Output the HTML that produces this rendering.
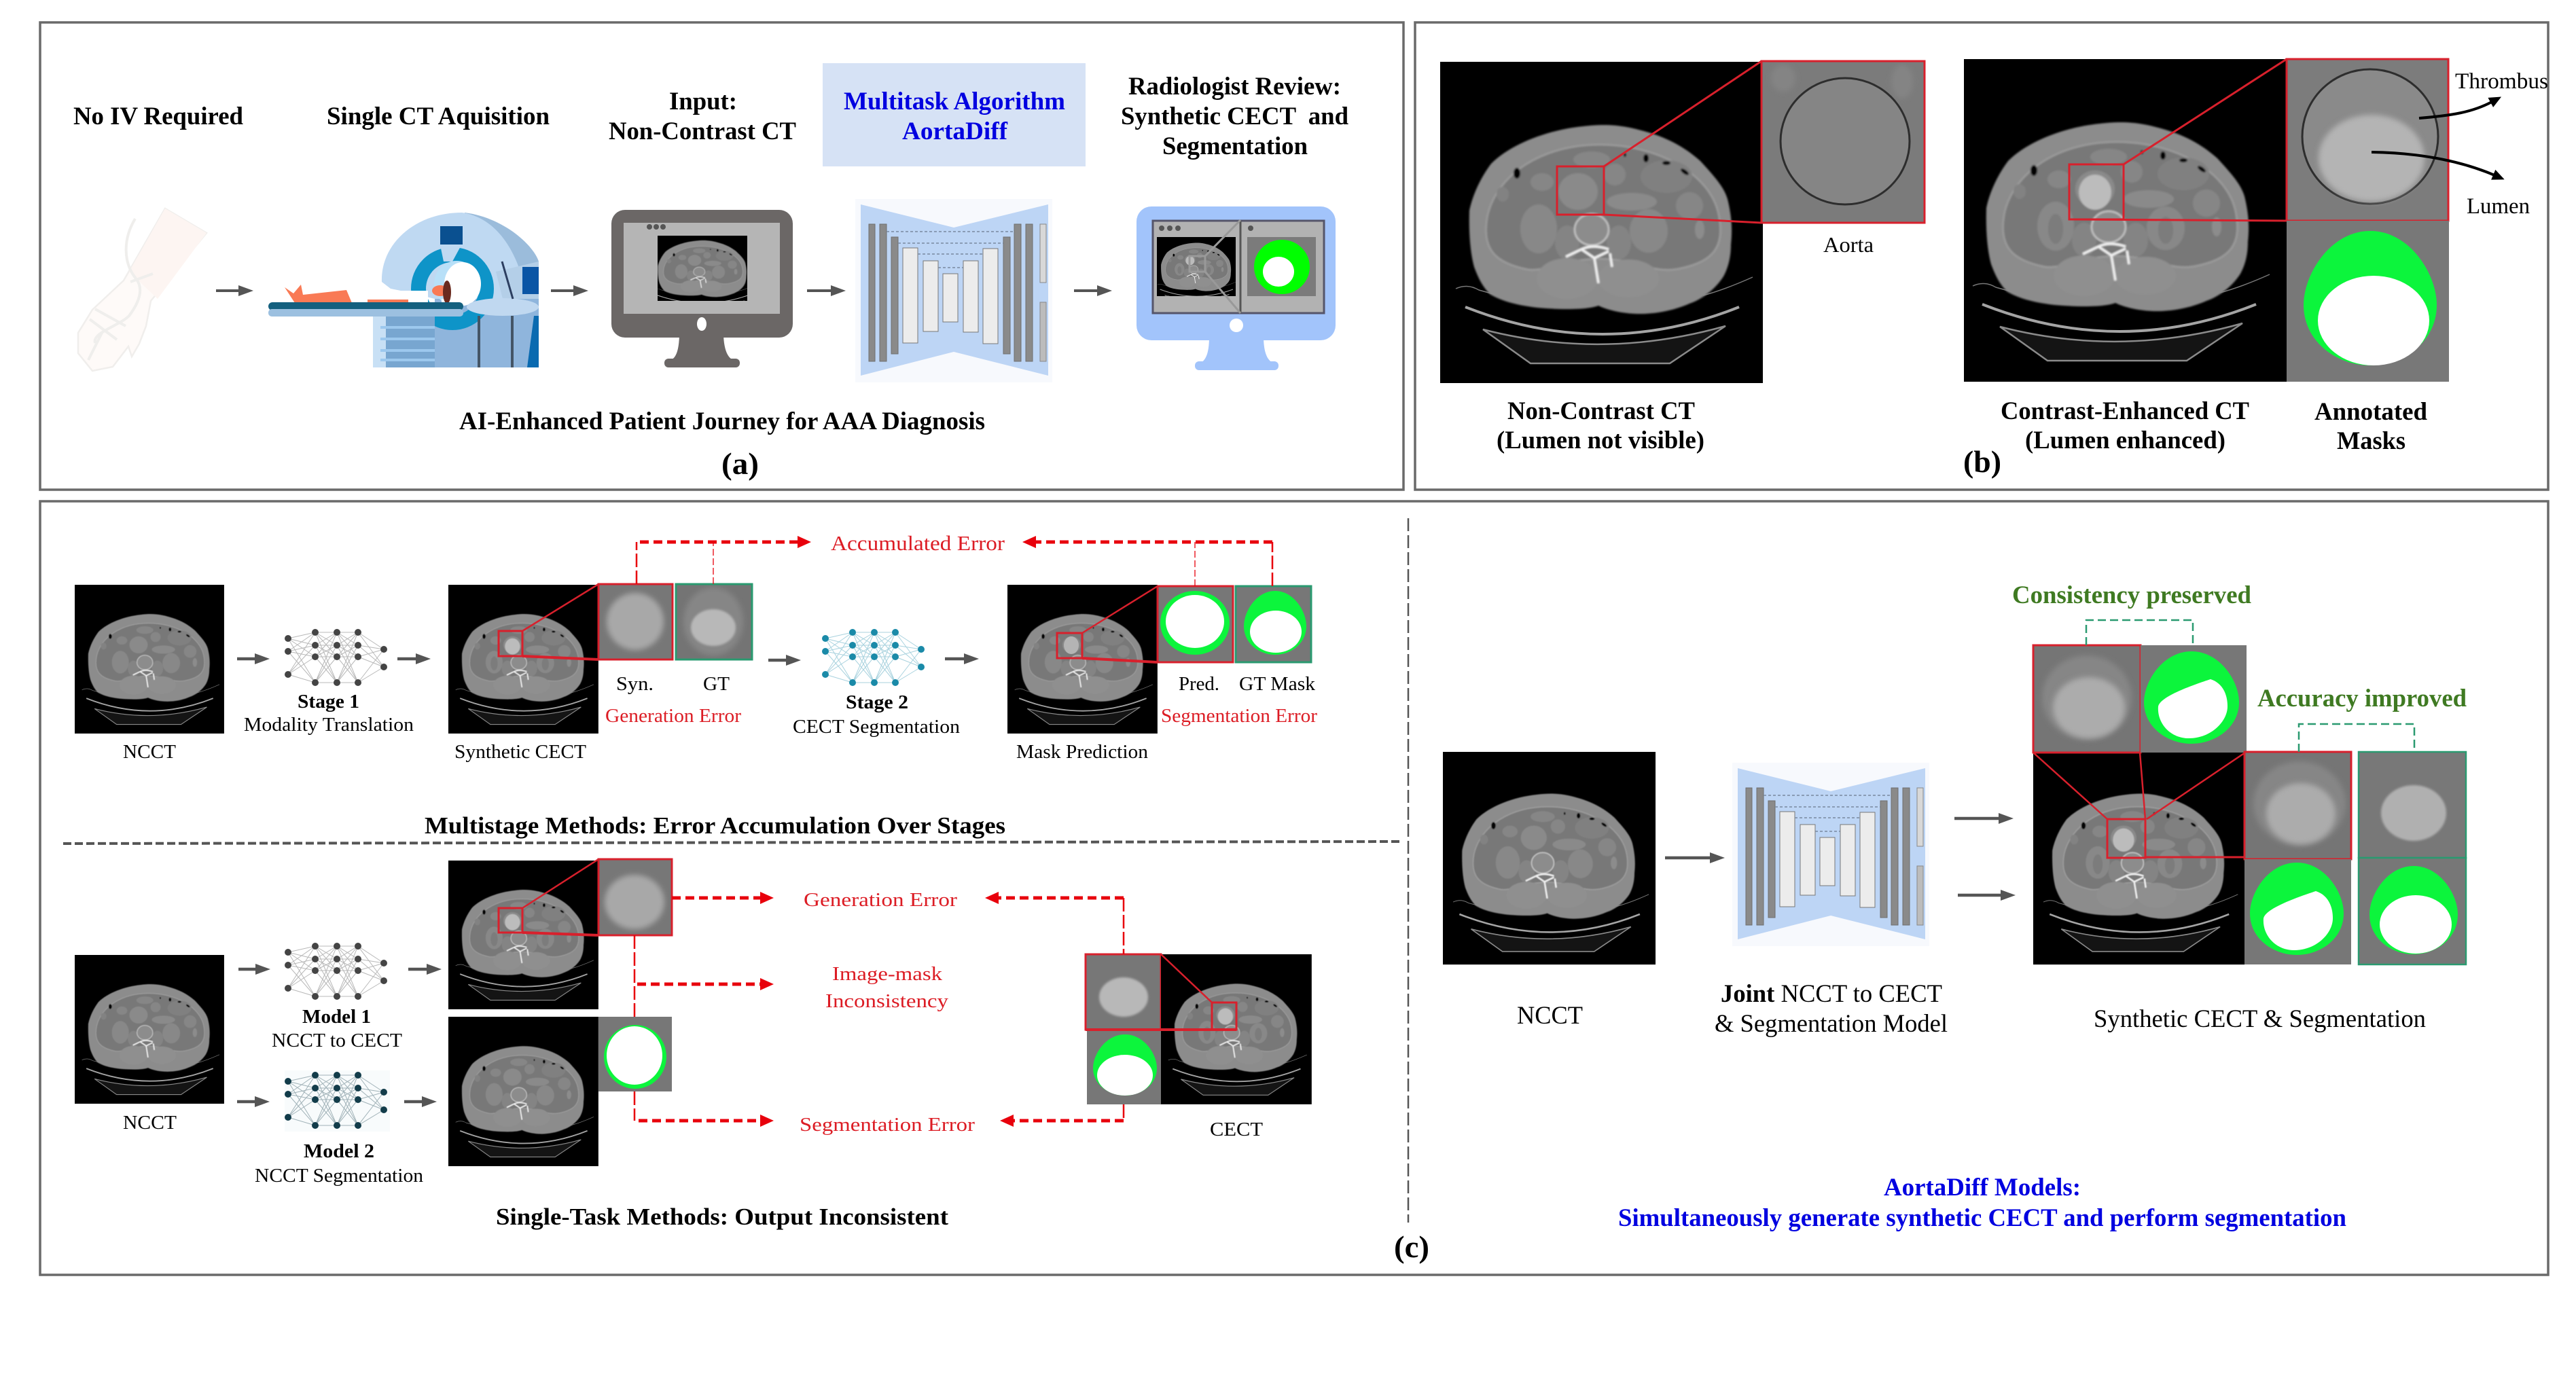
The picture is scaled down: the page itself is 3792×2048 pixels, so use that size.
<!DOCTYPE html>
<html><head><meta charset="utf-8"><style>
html,body{margin:0;padding:0;background:#fff}
svg{display:block}
text{font-family:"Liberation Serif",serif;fill:#000}
.h{font-weight:bold;font-size:37px}
.s{font-size:28px}
.sb{font-size:29px;font-weight:bold}
.r{fill:#dc1c24;font-size:29px}
.bl{fill:#0000e0;font-weight:bold;font-size:37px}
.gr{fill:#3f7a22;font-weight:bold;font-size:37px}
.hd{font-weight:bold;font-size:35px}
</style></head><body>
<svg xmlns="http://www.w3.org/2000/svg" width="3792" height="2048" viewBox="0 0 3792 2048">
<defs>
<filter id="b" x="-30%" y="-30%" width="160%" height="160%"><feGaussianBlur stdDeviation="4"/></filter>
<filter id="b2" x="-30%" y="-30%" width="160%" height="160%"><feGaussianBlur stdDeviation="1.5"/></filter>
<filter id="b3" x="-5%" y="-5%" width="110%" height="110%"><feGaussianBlur stdDeviation="1.4"/></filter>
<marker id="g" markerUnits="userSpaceOnUse" markerWidth="22" markerHeight="16" refX="0" refY="8" orient="auto"><path d="M0 0L22 8L0 16Z" fill="#555"/></marker>
<marker id="rd" markerUnits="userSpaceOnUse" markerWidth="20" markerHeight="18" refX="0" refY="9" orient="auto"><path d="M0 0L20 9L0 18Z" fill="#e8000c"/></marker>
<marker id="k" markerUnits="userSpaceOnUse" markerWidth="18" markerHeight="16" refX="2" refY="8" orient="auto"><path d="M0 0L18 8L0 16Z" fill="#000"/></marker>
<path id="egg" d="M0-100C60-100 100-35 100 10C100 65 50 100 0 100C-50 100-100 65-100 10C-100-35-60-100 0-100Z" fill="#0cf53c"/>
<path id="wht" d="M3177 1040C3180 1025 3230 1008 3254 1000C3270 1005 3279 1020 3279 1040C3279 1062 3255 1087 3222 1087C3195 1087 3175 1065 3177 1040Z" fill="#fff"/>
<g id="ct">
<rect width="475" height="473" fill="#000"/>
<path d="M63 394Q240 440 420 389L338 444L133 444Z" fill="#141414" stroke="#8a8a8a" stroke-width="2.5"/>
<path d="M37 361Q240 441 440 361" fill="none" stroke="#a4a4a4" stroke-width="4"/>
<path d="M23 334Q40 326 57 336L100 348M387 344Q420 335 460 317" fill="none" stroke="#777" stroke-width="1.5"/>
<g filter="url(#b3)">
<path d="M210 95C250 90 275 95 300 102C340 113 365 130 383 146C405 170 418 185 423 202C430 230 430 250 428 269C428 290 423 305 417 316C405 335 385 350 367 356C340 368 310 372 287 371C265 370 245 365 233 359C220 364 190 366 143 362C110 358 90 352 73 342C60 328 55 315 50 302C44 280 42 250 43 219C48 195 60 170 75 150C105 120 160 100 210 95Z" fill="#8c8c8c"/>
<path d="M235 122C320 122 398 165 410 225C420 275 400 295 350 305C310 312 290 290 235 290C180 290 150 312 125 305C80 295 60 275 70 225C85 165 150 122 235 122Z" fill="#787878" stroke="#9c9c9c" stroke-width="2.5"/>
<ellipse cx="203" cy="191" rx="29" ry="27" fill="#8a8a8a"/>
<ellipse cx="223" cy="144" rx="27" ry="12" fill="#868686"/><ellipse cx="257" cy="166" rx="16" ry="16" fill="#868686"/>
<ellipse cx="150" cy="177" rx="17" ry="13" fill="#868686"/><ellipse cx="282" cy="206" rx="37" ry="13" fill="#8a8a8a"/>
<ellipse cx="145" cy="246" rx="27" ry="36" fill="#888"/><ellipse cx="307" cy="249" rx="28" ry="32" fill="#888"/>
<ellipse cx="333" cy="169" rx="38" ry="24" fill="#808080"/><ellipse cx="367" cy="212" rx="20" ry="20" fill="#868686"/>
<ellipse cx="382" cy="247" rx="7" ry="14" fill="#8c8c8c"/><ellipse cx="92" cy="195" rx="9" ry="11" fill="#828282"/>
<ellipse cx="187" cy="266" rx="18" ry="25" fill="#848484"/><ellipse cx="263" cy="266" rx="18" ry="25" fill="#848484"/>
<ellipse cx="187" cy="319" rx="45" ry="30" fill="#8f8f8f"/><ellipse cx="277" cy="319" rx="45" ry="28" fill="#8f8f8f"/>
<ellipse cx="223" cy="247" rx="25" ry="23" fill="#8c8c8c" stroke="#c4c4c4" stroke-width="2.5"/>
<path d="M185 287L208 276L227 289L248 279M227 289L233 326M250 282L253 302M208 276Q225 268 248 276" fill="none" stroke="#f2f2f2" stroke-width="3.5"/>
<ellipse cx="113" cy="164" rx="5" ry="8" fill="#000"/><ellipse cx="303" cy="142" rx="4" ry="6" fill="#000"/><ellipse cx="333" cy="149" rx="6" ry="3" fill="#000"/><ellipse cx="360" cy="162" rx="7" ry="3" fill="#000" transform="rotate(35 360 162)"/><ellipse cx="272" cy="137" rx="2" ry="3" fill="#000"/>
</g>
</g>
<g id="cte"><use href="#ct"/>
<ellipse cx="145" cy="250" rx="11" ry="22" fill="#7c7c7c" filter="url(#b3)"/><ellipse cx="307" cy="252" rx="11" ry="20" fill="#7c7c7c" filter="url(#b3)"/>
<ellipse cx="203" cy="196" rx="24" ry="26" fill="#bcbcbc" filter="url(#b3)"/></g>
<g id="unet">
<rect width="290" height="270" fill="#f7f9fd"/>
<path d="M8 8L145 42L284 8L284 260L145 225L8 260Z" fill="#bdd5f5"/>
<g fill="#8a8a8a" stroke="#6f6f6f"><rect x="20" y="37" width="9" height="202"/><rect x="36" y="37" width="10" height="202"/><rect x="53" y="56" width="10" height="172"/><rect x="218" y="56" width="10" height="172"/><rect x="234" y="37" width="10" height="202"/><rect x="251" y="37" width="10" height="202"/></g>
<g fill="#ececec" stroke="#777"><rect x="70" y="72" width="22" height="140"/><rect x="100" y="91" width="22" height="104"/><rect x="129" y="110" width="22" height="71"/><rect x="159" y="91" width="22" height="105"/><rect x="188" y="73" width="22" height="140"/></g>
<rect x="272" y="37" width="9" height="86" fill="#d8d8d8" stroke="#888"/><rect x="272" y="152" width="9" height="87" fill="#bcbcbc" stroke="#888"/>
<path d="M46 48H234M63 65H218M92 81H188M122 101H159" stroke="#7a8aa0" stroke-width="1.5" stroke-dasharray="4 3" fill="none"/>
</g>
<g id="net">
<path d="M3 12L43 3M3 12L43 22M3 12L43 39M3 12L43 77M3 31L43 3M3 31L43 22M3 31L43 39M3 31L43 77M3 65L43 3M3 65L43 22M3 65L43 39M3 65L43 77M43 3L75 3M43 3L75 22M43 3L75 39M43 3L75 77M43 22L75 3M43 22L75 22M43 22L75 39M43 22L75 77M43 39L75 3M43 39L75 22M43 39L75 39M43 39L75 77M43 77L75 3M43 77L75 22M43 77L75 39M43 77L75 77M75 3L106 3M75 3L106 22M75 3L106 39M75 3L106 77M75 22L106 3M75 22L106 22M75 22L106 39M75 22L106 77M75 39L106 3M75 39L106 22M75 39L106 39M75 39L106 77M75 77L106 3M75 77L106 22M75 77L106 39M75 77L106 77M106 3L144 28M106 22L144 28M106 39L144 28M106 77L144 28M106 3L144 54M106 22L144 54M106 39L144 54M106 77L144 54" fill="none" stroke="currentColor" stroke-width="1" opacity=".38"/>
<g fill="currentColor"><circle cx="3" cy="12" r="5"/><circle cx="3" cy="31" r="5"/><circle cx="3" cy="65" r="5"/><circle cx="43" cy="3" r="5"/><circle cx="43" cy="22" r="5"/><circle cx="43" cy="39" r="5"/><circle cx="43" cy="77" r="5"/><circle cx="75" cy="3" r="5"/><circle cx="75" cy="22" r="5"/><circle cx="75" cy="39" r="5"/><circle cx="75" cy="77" r="5"/><circle cx="106" cy="3" r="5"/><circle cx="106" cy="22" r="5"/><circle cx="106" cy="39" r="5"/><circle cx="106" cy="77" r="5"/><circle cx="144" cy="28" r="5"/><circle cx="144" cy="54" r="5"/></g>
</g>
</defs>
<rect width="3792" height="2048" fill="#fff"/>

<!-- panels -->
<g fill="none" stroke="#6a6a6a" stroke-width="3.5">
<rect x="59" y="33" width="2007" height="688"/>
<rect x="2083" y="33" width="1668" height="688"/>
<rect x="59" y="738" width="3692" height="1139"/>
</g>

<!-- PANEL A -->
<rect x="1211" y="93" width="387" height="152" fill="#d6e2f5"/>
<text class="h" x="108" y="183" textLength="250" lengthAdjust="spacingAndGlyphs">No IV Required</text>
<text class="h" x="481" y="183" textLength="328" lengthAdjust="spacingAndGlyphs">Single CT Aquisition</text>
<text class="h" x="985" y="161" textLength="100" lengthAdjust="spacingAndGlyphs">Input:</text>
<text class="h" x="896" y="205" textLength="276" lengthAdjust="spacingAndGlyphs">Non-Contrast CT</text>
<text class="bl" x="1242" y="161" textLength="326" lengthAdjust="spacingAndGlyphs">Multitask Algorithm</text>
<text class="bl" x="1328" y="205" textLength="155" lengthAdjust="spacingAndGlyphs">AortaDiff</text>
<text class="h" x="1661" y="139" textLength="313" lengthAdjust="spacingAndGlyphs">Radiologist Review:</text>
<text class="h" x="1650" y="183" textLength="335" lengthAdjust="spacingAndGlyphs" xml:space="preserve">Synthetic CECT  and</text>
<text class="h" x="1711" y="227" textLength="214" lengthAdjust="spacingAndGlyphs">Segmentation</text>
<text class="h" x="676" y="632" textLength="774" lengthAdjust="spacingAndGlyphs">AI-Enhanced Patient Journey for AAA Diagnosis</text>
<text x="1062" y="698" font-size="46" font-weight="bold" textLength="55" lengthAdjust="spacingAndGlyphs">(a)</text>

<!-- hand -->
<path d="M243 307L304 343L222 443L215 480L205 506L194 525L189 510L166 540L136 546L115 520L115 490L136 456L182 413Z" fill="#fefaf8" stroke="#f0eeec" stroke-width="2.5"/>
<path d="M243 307L304 343L232 440L190 400Z" fill="#fdf5f2"/>
<path d="M199 322C182 350 180 385 200 410C212 425 205 445 190 465C175 480 135 490 140 505M140 455L185 480M132 470L172 500M130 530L150 490M192 415L225 403" fill="none" stroke="#efeeec" stroke-width="4"/>

<!-- scanner -->
<path d="M684 313C740 320 785 360 793 385L793 470L700 470Z" fill="#9bbcdb"/>
<path d="M562 415C560 360 610 313 680 313C730 320 765 370 775 440L640 440L600 430L575 425Z" fill="#bfd9f2"/>
<rect x="640" y="440" width="153" height="101" fill="#8fb5dc"/>
<path d="M730 400L793 385V440H740Z" fill="#b4cfe8"/>
<rect x="648" y="333" width="33" height="27" fill="#0a5090"/>
<ellipse cx="666" cy="425" rx="50" ry="50" fill="none" stroke="#0e94c8" stroke-width="22"/>
<ellipse cx="672" cy="418" rx="33" ry="34" fill="#b8e0f8"/>
<ellipse cx="681" cy="418" rx="27" ry="32" fill="#fff"/>
<path d="M648 361H679L666 385H653Z" fill="#bfd9f2"/>
<rect x="650" y="440" width="40" height="8" fill="#fff"/>
<ellipse cx="740" cy="452" rx="53" ry="13" fill="#c0d8f0"/>
<path d="M739 385L755 440" stroke="#2c3e60" stroke-width="3"/>
<rect x="769" y="393" width="24" height="40" fill="#0a55a5"/>
<path d="M786 465L793 465L793 541L776 541Z" fill="#0a6ab0"/>
<path d="M705 465V541M754 465V541" stroke="#445566" stroke-width="4"/>
<rect x="549" y="466" width="91" height="75" fill="#c8e0f5"/>
<rect x="568" y="466" width="72" height="75" fill="#78a6d0"/>
<g fill="#9cc8ee"><rect x="560" y="480" width="80" height="4"/><rect x="560" y="497" width="80" height="4"/><rect x="560" y="514" width="80" height="4"/><rect x="560" y="528" width="80" height="4"/></g>
<path d="M419 423L432 432L443 419L446 434L510 427L518 446L434 446Z" fill="#f97a55"/>
<path d="M518 428L630 428L630 446L518 446Z" fill="#fff"/>
<rect x="541" y="441" width="60" height="6" fill="#f97a55"/>
<ellipse cx="648" cy="428" rx="12" ry="8" fill="#f97a55"/>
<ellipse cx="658" cy="430" rx="6" ry="17" fill="#6a2a1e"/>
<rect x="395" y="445" width="287" height="12" rx="6" fill="#14607f"/>
<rect x="395" y="455" width="287" height="11" rx="5" fill="#9cc0e0"/>

<!-- monitor 1 -->
<path d="M1000 490C1000 515 995 530 985 530L1082 530C1072 530 1065 515 1065 490Z" fill="#6b6766"/>
<rect x="978" y="528" width="111" height="13" rx="6" fill="#6b6766"/>
<rect x="900" y="309" width="267" height="188" rx="20" fill="#6b6766"/>
<rect x="918" y="328" width="230" height="134" fill="#b5b5b5"/>
<g fill="#555"><circle cx="956" cy="334" r="4"/><circle cx="966" cy="334" r="4"/><circle cx="976" cy="334" r="4"/></g>
<rect x="968" y="347" width="132" height="96" fill="#000"/>
<svg x="968" y="347" width="132" height="96" viewBox="42 70 390 320" preserveAspectRatio="none"><use href="#ct"/></svg>
<ellipse cx="1033" cy="477" rx="7" ry="10" fill="#fff"/>

<!-- unet a -->
<use href="#unet" transform="translate(1259,293)"/>

<!-- monitor 2 -->
<path d="M1780 495C1780 520 1775 532 1765 535L1876 535C1866 532 1860 520 1860 495Z" fill="#a2c4fb"/>
<rect x="1759" y="532" width="123" height="13" rx="6" fill="#a2c4fb"/>
<rect x="1673" y="304" width="293" height="197" rx="22" fill="#a2c4fb"/>
<rect x="1697" y="325" width="252" height="136" fill="#b2b2b2" stroke="#55556a" stroke-width="3"/>
<path d="M1826 325V461" stroke="#555" stroke-width="3"/>
<g fill="#555"><circle cx="1710" cy="336" r="4"/><circle cx="1722" cy="336" r="4"/><circle cx="1734" cy="336" r="4"/><circle cx="1841" cy="336" r="4"/></g>
<rect x="1703" y="349" width="116" height="87" fill="#000"/>
<svg x="1703" y="349" width="116" height="87" viewBox="20 60 435 340" preserveAspectRatio="none"><use href="#cte"/></svg>
<rect x="1836" y="349" width="101" height="87" fill="#7b7b7b"/>
<ellipse cx="1887" cy="393" rx="41" ry="40" fill="#0f0"/>
<ellipse cx="1882" cy="400" rx="23" ry="22" fill="#fff"/>
<rect x="1751" y="377" width="23" height="23" fill="none" stroke="#999" stroke-width="3"/>
<path d="M1774 377L1826 324M1774 400L1826 461" stroke="#999" stroke-width="3"/>
<ellipse cx="1820" cy="479" rx="10" ry="10" fill="#fff"/>

<!-- arrows a -->
<g stroke="#555" stroke-width="4" marker-end="url(#g)" fill="none">
<path d="M318 428H351"/><path d="M811 428H844"/><path d="M1188 428H1223"/><path d="M1581 428H1615"/>
</g>

<!-- PANEL B -->
<use href="#ct" transform="translate(2120,91)"/>
<rect x="2593" y="90" width="240" height="238" fill="#7b7b7b"/>
<ellipse cx="2625" cy="115" rx="18" ry="20" fill="#848484" filter="url(#b)"/><ellipse cx="2800" cy="120" rx="16" ry="25" fill="#848484" filter="url(#b)"/>
<ellipse cx="2716" cy="208" rx="95" ry="93" fill="#858585" stroke="#2d2d2d" stroke-width="3"/>
<rect x="2593" y="90" width="240" height="238" fill="none" stroke="#d8202c" stroke-width="3"/>
<rect x="2292" y="245" width="69" height="71" fill="none" stroke="#d8202c" stroke-width="3"/>
<path d="M2361 245L2593 90M2361 316L2593 328" stroke="#d8202c" stroke-width="3"/>
<text x="2684" y="371" style="font-size:32px" textLength="74" lengthAdjust="spacingAndGlyphs">Aorta</text>

<rect x="2891" y="87" width="475" height="475" fill="#000"/>
<svg x="2891" y="87" width="475" height="475" viewBox="10 0 475 475"><use href="#cte"/></svg>
<rect x="3366" y="87" width="238" height="238" fill="#7c7c7c"/>
<ellipse cx="3489" cy="201" rx="100" ry="99" fill="#8a8a8a" stroke="#2d2d2d" stroke-width="3"/>
<ellipse cx="3491" cy="233" rx="78" ry="64" fill="#b4b4b4" filter="url(#b)"/>
<rect x="3366" y="87" width="238" height="238" fill="none" stroke="#d8202c" stroke-width="3"/>
<rect x="3366" y="325" width="239" height="237" fill="#787878"/>
<use href="#egg" transform="translate(3489,439) scale(.98,.99)"/>
<ellipse cx="3494" cy="472" rx="82" ry="66" fill="#fff"/>
<rect x="3046" y="242" width="80" height="81" fill="none" stroke="#d8202c" stroke-width="3"/>
<path d="M3126 242L3366 87M3046 323L3366 325" stroke="#d8202c" stroke-width="3"/>
<path d="M3561 174C3610 170 3640 165 3668 150" fill="none" stroke="#000" stroke-width="4" marker-end="url(#k)"/>
<path d="M3491 224C3570 225 3630 240 3672 258" fill="none" stroke="#000" stroke-width="4" marker-end="url(#k)"/>
<text x="3614" y="130" style="font-size:33px" textLength="137" lengthAdjust="spacingAndGlyphs">Thrombus</text>
<text x="3631" y="314" style="font-size:33px" textLength="93" lengthAdjust="spacingAndGlyphs">Lumen</text>
<text class="h" x="2219" y="617" textLength="276" lengthAdjust="spacingAndGlyphs">Non-Contrast CT</text>
<text class="h" x="2203" y="660" textLength="306" lengthAdjust="spacingAndGlyphs">(Lumen not visible)</text>
<text class="h" x="2945" y="617" textLength="366" lengthAdjust="spacingAndGlyphs">Contrast-Enhanced CT</text>
<text class="h" x="2981" y="660" textLength="295" lengthAdjust="spacingAndGlyphs">(Lumen enhanced)</text>
<text class="h" x="3407" y="618" textLength="166" lengthAdjust="spacingAndGlyphs">Annotated</text>
<text class="h" x="3440" y="661" textLength="101" lengthAdjust="spacingAndGlyphs">Masks</text>
<text x="2890" y="695" font-size="46" font-weight="bold" textLength="56" lengthAdjust="spacingAndGlyphs">(b)</text>

<!-- PANEL C dashed dividers -->
<path d="M93 1242L2062 1239" stroke="#555" stroke-width="4" stroke-dasharray="12 5"/>
<path d="M2073 763V1800" stroke="#555" stroke-width="2.5" stroke-dasharray="19 6"/>

<!-- multistage row -->
<use href="#ct" transform="translate(110,861) scale(.463)"/>
<use href="#cte" transform="translate(660,861) scale(.465,.463)"/>
<use href="#ct" transform="translate(1483,861) scale(.465,.463)"/>
<ellipse cx="1577" cy="950" rx="11" ry="13" fill="#b4b4b4"/>
<use href="#net" transform="translate(421,928)" color="#444"/>
<use href="#net" transform="translate(1212,928)" color="#1a8aa8"/>

<rect x="881" y="860" width="109" height="111" fill="#777"/>
<ellipse cx="935" cy="915" rx="42" ry="42" fill="#a8a8a8" filter="url(#b)"/>
<rect x="881" y="860" width="109" height="111" fill="none" stroke="#d8202c" stroke-width="3"/>
<rect x="995" y="860" width="112" height="111" fill="#747474"/>
<ellipse cx="1050" cy="915" rx="44" ry="50" fill="#868686" filter="url(#b)"/>
<ellipse cx="1050" cy="924" rx="33" ry="27" fill="#b8b8b8" filter="url(#b2)"/>
<rect x="995" y="860" width="112" height="111" fill="none" stroke="#2a9a70" stroke-width="3"/>
<rect x="734" y="929" width="35" height="37" fill="none" stroke="#d8202c" stroke-width="3"/>
<path d="M769 929L881 860" stroke="#d8202c" stroke-width="2.5"/><path d="M769 966L881 971" stroke="#d8202c" stroke-width="4"/>

<rect x="1704" y="863" width="111" height="112" fill="#777"/>
<ellipse cx="1759" cy="917" rx="51" ry="47" fill="#0cf53c"/>
<ellipse cx="1759" cy="915" rx="43" ry="39" fill="#fff"/>
<rect x="1704" y="863" width="111" height="112" fill="none" stroke="#d8202c" stroke-width="3"/>
<rect x="1819" y="863" width="111" height="112" fill="#777"/>
<use href="#egg" transform="translate(1877,917) scale(.46,.47)"/>
<ellipse cx="1878" cy="930" rx="38" ry="31" fill="#fff"/>
<rect x="1819" y="863" width="111" height="112" fill="none" stroke="#2a9a70" stroke-width="3"/>
<rect x="1556" y="932" width="37" height="37" fill="none" stroke="#d8202c" stroke-width="3"/>
<path d="M1593 932L1704 863" stroke="#d8202c" stroke-width="2.5"/><path d="M1593 969L1704 975" stroke="#d8202c" stroke-width="4"/>

<g stroke="#555" stroke-width="4.5" marker-end="url(#g)" fill="none">
<path d="M349 970H375"/><path d="M585 970H612"/><path d="M1131 972H1157"/><path d="M1391 970H1419"/>
<path d="M351 1427H376"/><path d="M601 1427H628"/><path d="M349 1622H375"/><path d="M595 1622H621"/>
<path d="M2451 1263H2517"/><path d="M2877 1205H2942"/><path d="M2882 1318H2945"/>
</g>

<!-- accumulated error -->
<g fill="none" stroke="#e8000c">
<path d="M937 860V798" stroke-width="2.5" stroke-dasharray="20 5"/>
<path d="M1050 860V798" stroke-width="1.3" stroke-dasharray="10 4"/>
<path d="M942 798H1174" stroke-width="5" stroke-dasharray="13 7" marker-end="url(#rd)"/>
<path d="M1873 863V798" stroke-width="2.5" stroke-dasharray="20 5"/>
<path d="M1759 863V798" stroke-width="1.3" stroke-dasharray="10 4"/>
<path d="M1873 798H1525" stroke-width="5" stroke-dasharray="13 7" marker-end="url(#rd)"/>
</g>
<text class="r" x="1223" y="810" style="font-size:31px" textLength="256" lengthAdjust="spacingAndGlyphs">Accumulated Error</text>

<text class="s" x="181" y="1116" textLength="78" lengthAdjust="spacingAndGlyphs">NCCT</text>
<text class="sb" x="438" y="1042" textLength="91" lengthAdjust="spacingAndGlyphs">Stage 1</text>
<text class="s" x="359" y="1076" textLength="250" lengthAdjust="spacingAndGlyphs">Modality Translation</text>
<text class="s" x="669" y="1116" textLength="194" lengthAdjust="spacingAndGlyphs">Synthetic CECT</text>
<text class="s" x="907" y="1016" textLength="55" lengthAdjust="spacingAndGlyphs">Syn.</text>
<text class="s" x="1035" y="1016" textLength="39" lengthAdjust="spacingAndGlyphs">GT</text>
<text class="r" x="891" y="1063" textLength="200" lengthAdjust="spacingAndGlyphs">Generation Error</text>
<text class="sb" x="1245" y="1043" textLength="92" lengthAdjust="spacingAndGlyphs">Stage 2</text>
<text class="s" x="1167" y="1079" textLength="246" lengthAdjust="spacingAndGlyphs">CECT Segmentation</text>
<text class="s" x="1496" y="1116" textLength="194" lengthAdjust="spacingAndGlyphs">Mask Prediction</text>
<text class="s" x="1735" y="1016" textLength="60" lengthAdjust="spacingAndGlyphs">Pred.</text>
<text class="s" x="1824" y="1016" textLength="112" lengthAdjust="spacingAndGlyphs">GT Mask</text>
<text class="r" x="1709" y="1063" textLength="230" lengthAdjust="spacingAndGlyphs">Segmentation Error</text>
<text class="hd" x="625" y="1227" textLength="855" lengthAdjust="spacingAndGlyphs">Multistage Methods: Error Accumulation Over Stages</text>

<!-- single task row -->
<use href="#ct" transform="translate(110,1406) scale(.463)"/>
<use href="#net" transform="translate(421,1390)" color="#444"/>
<rect x="419" y="1576" width="155" height="90" fill="#f8fbfc"/>
<use href="#net" transform="translate(421,1580)" color="#123c4a"/>
<use href="#cte" transform="translate(660,1267) scale(.465,.463)"/>
<use href="#ct" transform="translate(660,1497) scale(.465)"/>

<rect x="881" y="1265" width="108" height="112" fill="#777"/>
<ellipse cx="934" cy="1328" rx="44" ry="40" fill="#a8a8a8" filter="url(#b)"/>
<rect x="881" y="1265" width="108" height="112" fill="none" stroke="#d8202c" stroke-width="3"/>
<rect x="734" y="1337" width="35" height="36" fill="none" stroke="#d8202c" stroke-width="3"/>
<path d="M769 1337L881 1265" stroke="#d8202c" stroke-width="2.5"/><path d="M769 1373L881 1377" stroke="#d8202c" stroke-width="4"/>
<rect x="881" y="1497" width="108" height="110" fill="#777"/>
<ellipse cx="935" cy="1556" rx="46" ry="47" fill="#0cf53c"/>
<ellipse cx="934" cy="1554" rx="41" ry="43" fill="#fff"/>

<rect x="1598" y="1405" width="111" height="111" fill="#777"/>
<ellipse cx="1654" cy="1468" rx="36" ry="29" fill="#b8b8b8" filter="url(#b2)"/>
<rect x="1598" y="1405" width="111" height="111" fill="none" stroke="#d8202c" stroke-width="3"/>
<rect x="1600" y="1516" width="109" height="110" fill="#777"/>
<use href="#egg" transform="translate(1656,1568) scale(.47,.45)"/>
<ellipse cx="1656" cy="1583" rx="41" ry="30" fill="#fff"/>
<use href="#cte" transform="translate(1709,1405) scale(.467,.467)"/>
<rect x="1784" y="1476" width="36" height="40" fill="none" stroke="#d8202c" stroke-width="3"/>
<path d="M1709 1405L1784 1476" stroke="#d8202c" stroke-width="2.5"/><path d="M1598 1516H1820" stroke="#d8202c" stroke-width="4"/>

<g fill="none" stroke="#e8000c">
<path d="M934 1377V1497M934 1607V1650" stroke-width="2.5" stroke-dasharray="20 5"/>
<path d="M1654 1322V1405M1654 1626V1650" stroke-width="2.5" stroke-dasharray="20 5"/>
<path d="M989 1322H1119" stroke-width="5" stroke-dasharray="13 7" marker-end="url(#rd)"/>
<path d="M938 1449H1119" stroke-width="5" stroke-dasharray="13 7" marker-end="url(#rd)"/>
<path d="M940 1650H1119" stroke-width="5" stroke-dasharray="13 7" marker-end="url(#rd)"/>
<path d="M1654 1322H1470" stroke-width="5" stroke-dasharray="13 7" marker-end="url(#rd)"/>
<path d="M1654 1650H1492" stroke-width="5" stroke-dasharray="13 7" marker-end="url(#rd)"/>
</g>
<text class="s" x="181" y="1662" textLength="79" lengthAdjust="spacingAndGlyphs">NCCT</text>
<text class="sb" x="445" y="1506" textLength="101" lengthAdjust="spacingAndGlyphs">Model 1</text>
<text class="s" x="400" y="1541" textLength="192" lengthAdjust="spacingAndGlyphs">NCCT to CECT</text>
<text class="sb" x="447" y="1704" textLength="104" lengthAdjust="spacingAndGlyphs">Model 2</text>
<text class="s" x="375" y="1740" textLength="248" lengthAdjust="spacingAndGlyphs">NCCT Segmentation</text>
<text class="r" x="1183" y="1334" textLength="226" lengthAdjust="spacingAndGlyphs">Generation Error</text>
<text class="r" x="1225" y="1443" textLength="162" lengthAdjust="spacingAndGlyphs">Image-mask</text>
<text class="r" x="1215" y="1483" textLength="181" lengthAdjust="spacingAndGlyphs">Inconsistency</text>
<text class="r" x="1177" y="1665" textLength="258" lengthAdjust="spacingAndGlyphs">Segmentation Error</text>
<text class="s" x="1781" y="1672" textLength="78" lengthAdjust="spacingAndGlyphs">CECT</text>
<text class="hd" x="730" y="1803" textLength="666" lengthAdjust="spacingAndGlyphs">Single-Task Methods: Output Inconsistent</text>
<text x="2052" y="1851" font-size="46" font-weight="bold" textLength="52" lengthAdjust="spacingAndGlyphs">(c)</text>

<!-- right side of C -->
<use href="#ct" transform="translate(2124,1107) scale(.659,.662)"/>
<use href="#unet" transform="translate(2550,1123)"/>
<use href="#cte" transform="translate(2993,1107) scale(.655,.662)"/>

<rect x="2993" y="950" width="158" height="158" fill="#757575"/>
<ellipse cx="3072" cy="1027" rx="66" ry="62" fill="#868686" filter="url(#b)"/>
<ellipse cx="3075" cy="1042" rx="53" ry="45" fill="#acacac" filter="url(#b)"/>
<rect x="2993" y="950" width="158" height="158" fill="none" stroke="#d8202c" stroke-width="3"/>
<rect x="3151" y="950" width="156" height="158" fill="#777"/>
<use href="#egg" transform="translate(3226,1027) scale(.7,.68)"/>
<use href="#wht"/>

<rect x="3304" y="1107" width="157" height="158" fill="#757575"/>
<ellipse cx="3385" cy="1183" rx="68" ry="62" fill="#868686" filter="url(#b)"/>
<ellipse cx="3387" cy="1198" rx="51" ry="45" fill="#acacac" filter="url(#b)"/>
<rect x="3304" y="1107" width="157" height="158" fill="none" stroke="#d8202c" stroke-width="3"/>
<rect x="3472" y="1107" width="158" height="156" fill="#787878"/>
<ellipse cx="3553" cy="1197" rx="48" ry="41" fill="#b0b0b0" filter="url(#b2)"/>
<rect x="3472" y="1107" width="158" height="156" fill="none" stroke="#2a9a70" stroke-width="2.5"/>

<rect x="3304" y="1265" width="157" height="155" fill="#777"/>
<use href="#egg" transform="translate(3381,1338) scale(.69,.68)"/>
<use href="#wht" transform="translate(155,312)"/>
<rect x="3472" y="1263" width="158" height="157" fill="#777"/>
<use href="#egg" transform="translate(3553,1340) scale(.65,.65)"/>
<ellipse cx="3556" cy="1361" rx="53" ry="43" fill="#fff"/>
<rect x="3472" y="1263" width="158" height="157" fill="none" stroke="#2a9a70" stroke-width="2.5"/>

<rect x="3102" y="1206" width="56" height="57" fill="none" stroke="#d8202c" stroke-width="3"/>
<path d="M2993 1108L3102 1206M3150 1108L3158 1206M3305 1108L3160 1206" stroke="#d8202c" stroke-width="2.5" fill="none"/>
<path d="M3158 1262H3304" stroke="#d8202c" stroke-width="3"/>

<path d="M3071 950V913H3228V950" fill="none" stroke="#2a9a70" stroke-width="2.5" stroke-dasharray="12 6"/>
<path d="M3384 1107V1066H3554V1107" fill="none" stroke="#2a9a70" stroke-width="2.5" stroke-dasharray="12 6"/>
<text class="gr" x="2962" y="888" textLength="352" lengthAdjust="spacingAndGlyphs">Consistency preserved</text>
<text class="gr" x="3323" y="1040" textLength="308" lengthAdjust="spacingAndGlyphs">Accuracy improved</text>
<text x="2233" y="1507" style="font-size:37px" textLength="97" lengthAdjust="spacingAndGlyphs">NCCT</text>
<text x="2533" y="1475" style="font-size:37px" textLength="326" lengthAdjust="spacingAndGlyphs"><tspan font-weight="bold">Joint</tspan> NCCT to CECT</text>
<text x="2524" y="1519" style="font-size:37px" textLength="343" lengthAdjust="spacingAndGlyphs">&amp; Segmentation Model</text>
<text x="3082" y="1512" style="font-size:37px" textLength="489" lengthAdjust="spacingAndGlyphs">Synthetic CECT &amp; Segmentation</text>
<text class="bl" x="2773" y="1760" textLength="290" lengthAdjust="spacingAndGlyphs">AortaDiff Models:</text>
<text class="bl" x="2382" y="1805" textLength="1072" lengthAdjust="spacingAndGlyphs">Simultaneously generate synthetic CECT and perform segmentation</text>
</svg>
</body></html>
